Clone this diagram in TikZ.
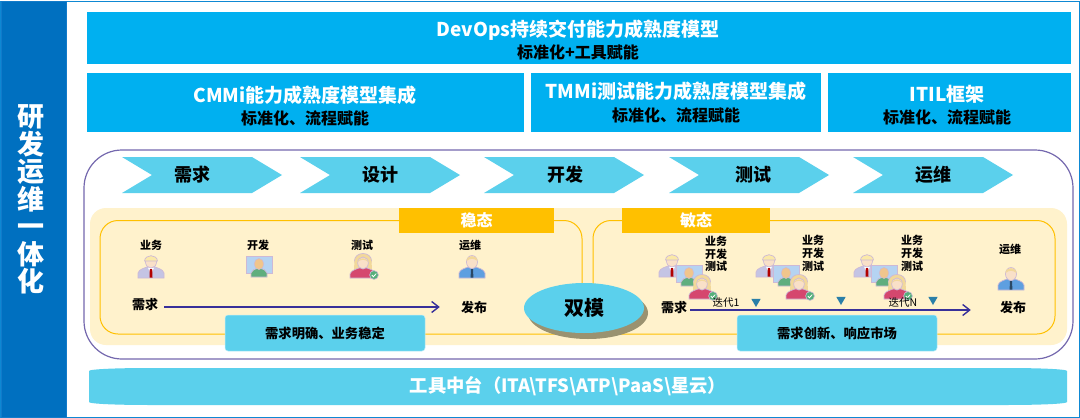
\documentclass[tikz,border=0pt]{standalone}
\usepackage{fontspec}
\setmainfont{Noto Sans CJK SC}
\usetikzlibrary{arrows.meta,shapes.geometric}
\definecolor{topblue}{HTML}{00B0F0}
\definecolor{sidebar}{HTML}{0070C0}
\definecolor{cyanbox}{HTML}{5BD0EC}
\definecolor{creamy}{HTML}{FFF2CC}
\definecolor{gold}{HTML}{FFC000}
\definecolor{purpleline}{HTML}{7468AE}
\definecolor{arrowblue}{HTML}{38309A}
\definecolor{iconline}{HTML}{CDB9D6}
\definecolor{skin}{HTML}{F9E0C8}
\definecolor{workerbody}{HTML}{C4C4E4}
\definecolor{hat}{HTML}{FBE9A8}
\definecolor{screenblue}{HTML}{B5D3F2}
\definecolor{screenbody}{HTML}{5FAE7E}
\definecolor{screenhead}{HTML}{F0C58C}
\definecolor{womanbody}{HTML}{D5476E}
\definecolor{hair}{HTML}{F2D89A}
\definecolor{manbody}{HTML}{5E9FE0}
\definecolor{badge}{HTML}{55B07A}
\definecolor{markerblue}{HTML}{2A7FA8}
\definecolor{shadowbrown}{HTML}{9A9270}
\tikzset{
 x=1pt,y=-1pt,
 topbox/.style={fill=topblue,draw=none,minimum height=#1,inner sep=0pt,anchor=north west},
 whitehead/.style={text=white,font=\fontsize{19}{21}\selectfont\bfseries,inner sep=0pt},
 blacksub/.style={text=black,font=\fontsize{16}{18}\selectfont\bfseries,inner sep=0pt},
 stagelabel/.style={text=black,font=\fontsize{18}{20}\selectfont\bfseries,inner sep=0pt},
 smalllabel/.style={text=black,font=\fontsize{11}{12}\selectfont\bfseries,inner sep=0pt},
 midlabel/.style={text=black,font=\fontsize{13}{15}\selectfont\bfseries,inner sep=0pt},
 note/.style={fill=cyanbox,draw=cyanbox!40!white,line width=.5pt,rounded corners=3pt,minimum width=200pt,minimum height=36pt,inner sep=0pt,font=\fontsize{13.3}{15}\selectfont\bfseries},
 zonehead/.style={fill=gold,text=white,minimum height=25pt,inner sep=0pt,font=\fontsize{16}{18}\selectfont\bfseries},
 zoneframe/.style={draw=gold,line width=1pt,rounded corners=18pt},
 flow/.style={draw=arrowblue,line width=1.4pt,-{Straight Barb[length=7pt,width=11pt,line width=1.4pt]}},
 marker/.style={fill=markerblue,draw=none,isosceles triangle,isosceles triangle apex angle=60,shape border rotate=-90,minimum size=0pt,inner sep=2.2pt},
 iconstroke/.style={draw=iconline,line width=.7pt},
 pics/worker/.style={code={
  \draw[iconstroke,fill=workerbody] (-13,11) -- (-13,6) .. controls (-12,2) and (-6,1) .. (-4,0) -- (4,0) .. controls (6,1) and (12,2) .. (13,6) -- (13,11) -- cycle;
  \fill[white] (-3,0.5) -- (3,0.5) -- (0,8) -- cycle;
  \fill[red!70!black] (-1.2,2) -- (1.2,2) -- (1.5,10.5) -- (-1.5,10.5) -- cycle;
  \draw[iconstroke,fill=skin] (0,-5) circle[x radius=5.5pt,y radius=6pt];
  \draw[iconstroke,fill=hat] (-6.5,-6) .. controls (-6,-13) and (6,-13) .. (6.5,-6) -- cycle;
 }},
 pics/man/.style={code={
  \draw[iconstroke,fill=manbody] (-13,11) -- (-13,6) .. controls (-12,2) and (-6,1) .. (-4,0) -- (4,0) .. controls (6,1) and (12,2) .. (13,6) -- (13,11) -- cycle;
  \fill[black!55!manbody] (-1,2) -- (1,2) -- (1.4,10.5) -- (-1.4,10.5) -- cycle;
  \draw[iconstroke,fill=skin] (0,-5) circle[x radius=5.5pt,y radius=6.5pt];
  \fill[hair] (-5.5,-6) .. controls (-5,-12.5) and (5,-12.5) .. (5.5,-6) .. controls (2,-9) and (-2,-9) .. (-5.5,-6) -- cycle;
 }},
 pics/screenperson/.style={code={
  \draw[iconline,line width=.9pt,fill=screenblue] (-13,-10) rectangle (13,7);
  \draw[iconstroke,fill=screenbody] (-8,11) -- (-8,7) .. controls (-7,4) and (-4,3) .. (-2,2.5) -- (2,2.5) .. controls (4,3) and (7,4) .. (8,7) -- (8,11) -- cycle;
  \draw[iconline,line width=.5pt,fill=screenhead] (0,-2) circle[x radius=4.8pt,y radius=5.5pt];
 }},
 pics/womancheck/.style={code={
  \draw[iconstroke,fill=hair] (0,-6.5) circle[x radius=8.5pt,y radius=7pt];
  \fill[hair] (-8.5,-6.5) -- (-9,3) -- (9,3) -- (8.5,-6.5) -- cycle;
  \draw[iconstroke,fill=womanbody] (-13,11) -- (-13,7) .. controls (-12,3) and (-6,2) .. (-4,1) -- (4,1) .. controls (6,2) and (12,3) .. (13,7) -- (13,11) -- cycle;
  \draw[iconstroke,fill=skin] (0,-4) circle[x radius=5.3pt,y radius=6pt];
  \fill[hair] (-5.3,-5) .. controls (-3,-10) and (3,-10) .. (5.3,-5) .. controls (2,-8) and (-2,-8) .. (-5.3,-5) -- cycle;
  \draw[draw=iconline,line width=.6pt,fill=badge] (11,8) circle[radius=4.4pt];
  \draw[white,line width=.8pt] (8.8,8) -- (10.5,9.7) -- (13.2,6.6);
 }},
}
\newcommand{\stackicons}[1]{%
  \begin{scope}[xshift=#1pt]
  \pic at (672,266) {worker};
  \pic at (689,275) {screenperson};
  \pic at (702,288) {womancheck};
  \end{scope}}
\begin{document}
\begin{tikzpicture}
\useasboundingbox (0,0) rectangle (1080,418);
\fill[white] (0,0) rectangle (1080,418);
\draw[color=cyan!70!blue,line width=.8pt] (.5,1) rectangle (1079.5,417);
% left bar
\node[fill=sidebar,draw=cyan!60!blue,line width=.5pt,minimum width=65pt,minimum height=416pt,inner sep=0pt,anchor=north west] (side) at (1,1) {};
\node[text=white,align=center,inner sep=0pt,font=\fontsize{27}{27.5}\selectfont\bfseries] (sidetext) at (31,199.5) {研\\发\\运\\维\\一\\体\\化};
% top boxes
\node[topbox=52pt,minimum width=984pt] (devops) at (87,12) {};
\node[topbox=59pt,minimum width=437pt] (cmmi) at (87,73) {};
\node[topbox=59pt,minimum width=290pt] (tmmi) at (531,73) {};
\node[topbox=59pt,minimum width=243pt] (itil) at (828,73) {};
\node[whitehead] (t1) at (578,30) {DevOps持续交付能力成熟度模型};
\node[blacksub] (s1) at (578,52) {标准化+工具赋能};
\node[whitehead] (t2) at (305,95) {CMMi能力成熟度模型集成};
\node[blacksub] (s2) at (305,118) {标准化、流程赋能};
\node[whitehead] (t3) at (676,91) {TMMi测试能力成熟度模型集成};
\node[blacksub] (s3) at (676,115) {标准化、流程赋能};
\node[whitehead] (t4) at (947,94) {ITIL框架};
\node[blacksub] (s4) at (947,117) {标准化、流程赋能};
% main frame
\draw[purpleline,line width=1.2pt,rounded corners=38pt] (84,150) rectangle (1073,359);
% chevrons
\foreach \xa/\lbl/\nm/\tx in {122/需求/a/192,300/设计/b/380,484/开发/c/565,669/测试/d/753,853/运维/e/933}{
 \fill[cyanbox] (\xa,157) -- ({\xa+130},157) -- ({\xa+160},175) -- ({\xa+130},193) -- (\xa,193) -- ({\xa+30},175) -- cycle;
 \node[stagelabel] (stage\nm) at (\tx,174.5) {\lbl};
}
% cream
\fill[creamy,rounded corners=16pt] (90,208) rectangle (1067,345);
\draw[zoneframe] (100,220.5) rectangle (582,334);
\draw[zoneframe] (593,220.5) rectangle (1055,334);
\node[zonehead,minimum width=155pt,anchor=north west] (stable) at (399,208) {稳态};
\node[zonehead,minimum width=148pt,anchor=north west] (agile) at (622,208) {敏态};
% left zone
\foreach \x/\lbl/\nm in {151/业务/a,258/开发/b,362/测试/c,470/运维/d}{\node[smalllabel] (lab\nm) at (\x,245) {\lbl};}
\pic at (151,267) {worker};
\pic at (259,266) {screenperson};
\pic at (363,267) {womancheck};
\pic at (472,267) {man};
\node[midlabel] (reqa) at (145,305) {需求};
\node[midlabel] (rela) at (474,308) {发布};
\draw[flow,shorten <=6pt,shorten >=21pt] (reqa.east |- 0,307) -- (rela.west |- 0,307);
\node[note] (notea) at (325,333) {需求明确、业务稳定};
% right zone
\stackicons{0}\stackicons{97}\stackicons{195}
\foreach \x/\nm/\yy in {716/a/254,813/b/253.5,912/c/253.5}{
 \node[smalllabel,align=center,font=\fontsize{11}{12.8}\selectfont\bfseries] (trio\nm) at (\x,\yy) {业务\\开发\\测试};
}
\node[smalllabel] (labe) at (1010,249) {运维};
\pic at (1011,279) {man};
\node[midlabel] (reqb) at (674,308) {需求};
\node[midlabel] (relb) at (1013,308) {发布};
\draw[flow,shorten <=3pt,shorten >=29pt] (reqb.east |- 0,310) -- (relb.west |- 0,310);
\node[inner sep=0pt,font=\fontsize{10.5}{11}\selectfont] (itera) at (726,303) {迭代1};
\node[inner sep=0pt,font=\fontsize{10.5}{11}\selectfont] (iterb) at (903,303) {迭代N};
\node[marker] (m1) at (756,301) {};
\node[marker] (m2) at (841,299) {};
\node[marker] (m3) at (933,299) {};
\node[note] (noteb) at (837,333) {需求创新、响应市场};
% dual mode
\fill[shadowbrown] (588,313) ellipse[x radius=60pt,y radius=26pt];
\node[ellipse,fill=cyanbox,minimum width=120pt,minimum height=50pt,inner sep=0pt,font=\fontsize{20}{22}\selectfont\bfseries] (dual) at (584,308) {双模};
% tool band
\fill[cyanbox] (89,371) .. controls (89,369) and (120,368) .. (150,368) -- (1006,368) .. controls (1036,368) and (1067,369) .. (1067,371) -- (1067,402) .. controls (1067,404) and (1036,405) .. (1006,405) -- (150,405) .. controls (120,405) and (89,404) .. (89,402) -- cycle;
\node[text=white,inner sep=0pt,font=\fontsize{18.3}{20}\selectfont\bfseries] (bandtext) at (568,386) {工具中台（ITA\textbackslash TFS\textbackslash ATP\textbackslash PaaS\textbackslash 星云）};
\end{tikzpicture}
\end{document}
